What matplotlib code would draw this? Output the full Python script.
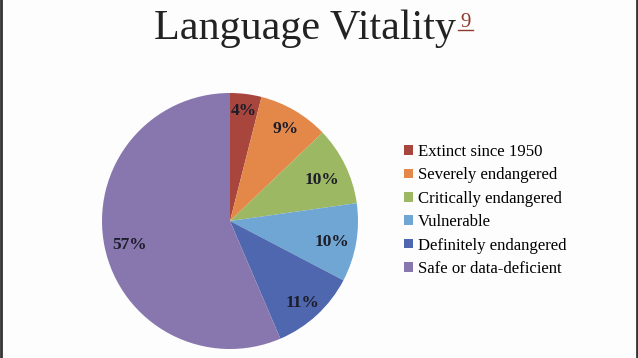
import matplotlib
matplotlib.use("Agg")
import matplotlib.pyplot as plt
from matplotlib.patches import Patch
from matplotlib.lines import Line2D
import numpy as np

categories = ["Extinct since 1950", "Severely endangered", "Critically endangered",
              "Vulnerable", "Definitely endangered", "Safe or data-deficient"]
values = [4, 9, 10, 10, 11, 57]
labels = ["4%", "9%", "10%", "10%", "11%", "57%"]
colors = ["#A8463D", "#E38849", "#9CB862", "#6FA6D3", "#4E67AE", "#8877AE"]
label_dist = [0.89, 0.86, 0.80, 0.81, 0.84, 0.80]

W, H = 638, 358
fig = plt.figure(figsize=(W / 100, H / 100), dpi=100)
fig.patch.set_facecolor("#FDFDFD")

cx, cy, r = 230, 221, 128
ax = fig.add_axes([(cx - r) / W, (H - cy - r) / H, 2 * r / W, 2 * r / H])
wedges, _ = ax.pie(values, colors=colors, startangle=90, counterclock=False,
                   wedgeprops=dict(linewidth=0))
for w, lab, d in zip(wedges, labels, label_dist):
    ang = np.deg2rad((w.theta1 + w.theta2) / 2)
    ax.text(d * np.cos(ang), d * np.sin(ang) - 0.025, lab, ha="center", va="center",
            fontsize=12.5, fontweight="bold", family="Liberation Serif", color="#1C1C2A")
ax.set_aspect("equal")
ax.set_xlim(-1, 1)
ax.set_ylim(-1, 1)

serif = "Liberation Serif"
fig.text(305 / W, 1 - 39 / H, "Language Vitality", ha="center", va="baseline",
         fontsize=30.3, family=serif, color="#222222")
fig.text(465.5 / W, 1 - 27 / H, "9", ha="center", va="baseline",
         fontsize=15, family=serif, color="#8E3B2B")
fig.add_artist(Line2D([458 / W, 473 / W], [1 - 30 / H, 1 - 30 / H],
                      color="#8E3B2B", linewidth=1.0, transform=fig.transFigure))

handles = [Patch(facecolor=c, edgecolor="none") for c in colors]
fig.legend(handles, categories, loc="upper left",
           bbox_to_anchor=(404.5 / W, 1 - 144 / H), frameon=False,
           prop=dict(family=serif, size=12.1), handlelength=0.5, handleheight=0.5,
           handletextpad=0.3, labelspacing=0.44, borderpad=0, borderaxespad=0)

# slide edges
fig.add_artist(Line2D([0.5 / W, 0.5 / W], [0, 1], color="#333333", linewidth=2,
                      transform=fig.transFigure))
fig.add_artist(Line2D([1 - 1 / W, 1 - 1 / W], [0, 1], color="#333333", linewidth=2,
                      transform=fig.transFigure))

fig.savefig("out.png", dpi=100, facecolor=fig.get_facecolor())
